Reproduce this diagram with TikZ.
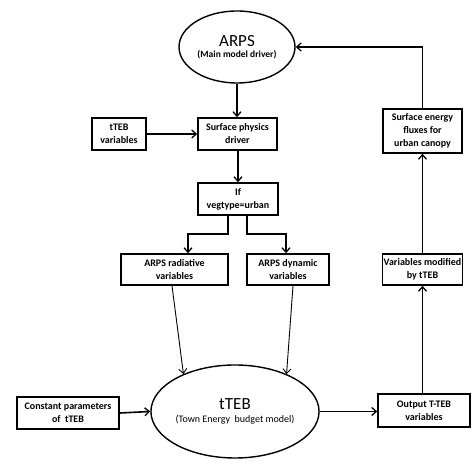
\documentclass[tikz,border=0pt]{standalone}
\usepackage{fontspec}
\setmainfont{Carlito}
\usetikzlibrary{shapes.geometric,arrows.meta}
\begin{document}
\begin{tikzpicture}[x=1pt,y=1pt,
  box/.style={draw,line width=1.6pt,rectangle,align=center,inner sep=1pt,
    font=\fontsize{10}{13}\selectfont\bfseries},
  oval/.style={draw,line width=1.4pt,ellipse,align=center,inner sep=0pt},
  arr/.style={line width=1.6pt,-{Straight Barb[length=4.5pt,width=8pt,line width=1.3pt]}},
  thinarr/.style={line width=0.9pt,-{Straight Barb[length=4.5pt,width=8pt,line width=0.9pt]}}]
\useasboundingbox (0,0) rectangle (474,465);
\node[oval,minimum width=116,minimum height=72] (arps) at (237,418)
  {{\fontsize{17}{20}\selectfont ARPS}\\[-1pt]{\fontsize{9.5}{12}\selectfont\bfseries (Main model driver)}};
\node[box,minimum width=79,minimum height=32] (phys) at (237.5,331) {Surface physics\\driver};
\node[box,minimum width=54,minimum height=32] (tvar) at (119,331) {tTEB\\variables};
\node[box,minimum width=80,minimum height=32] (ifb) at (238,266) {If\\vegtype=urban};
\node[box,minimum width=107,minimum height=31] (rad) at (174.5,195.5) {ARPS radiative\\variables};
\node[box,minimum width=82,minimum height=31] (dyn) at (288,195.5) {ARPS dynamic\\variables};
\node[oval,minimum width=134,minimum height=93] (teb) at (235,53.5)
  {{\fontsize{17}{20}\selectfont tTEB}\\[1pt]{\fontsize{10}{12}\selectfont (Town Energy\ \ budget model)}};
\node[box,minimum width=102,minimum height=32] (const) at (68,52) {Constant parameters\\of\ \ tTEB};
\node[box,minimum width=92,minimum height=33] (out) at (424,54.5) {Output T-TEB\\variables};
\node[box,minimum width=79,minimum height=31] (vmod) at (422.5,195.5) {Variables modified\\by tTEB};
\node[box,minimum width=79,minimum height=44] (sef) at (422.5,334) {Surface energy\\fluxes for\\urban canopy};
\draw[arr] (arps.south) -- (arps.south |- phys.north);
\draw[arr] (tvar.east) -- (tvar.east -| phys.west);
\draw[arr] (phys.south -| ifb.south) -- (ifb.north);
\draw[arr] ([xshift=-10pt]ifb.south) -- ++(0,-18) -| ([xshift=13.5pt]rad.north);
\draw[arr] ([xshift=9pt]ifb.south) -- ++(0,-18) -| ([xshift=-2pt]dyn.north);
\draw[thinarr] ([xshift=-2.5pt]rad.south) -- (teb.144);
\draw[thinarr] ([xshift=5pt]dyn.south) -- (teb.36);
\draw[arr] (const.east) -- (teb.west);
\draw[arr] (teb.east) -- (teb.east -| out.west);
\draw[arr] (out.north -| vmod.south) -- (vmod.south);
\draw[arr] (vmod.north) -- (sef.south);
\draw[arr] (sef.north) |- (arps.east);
\end{tikzpicture}
\end{document}
